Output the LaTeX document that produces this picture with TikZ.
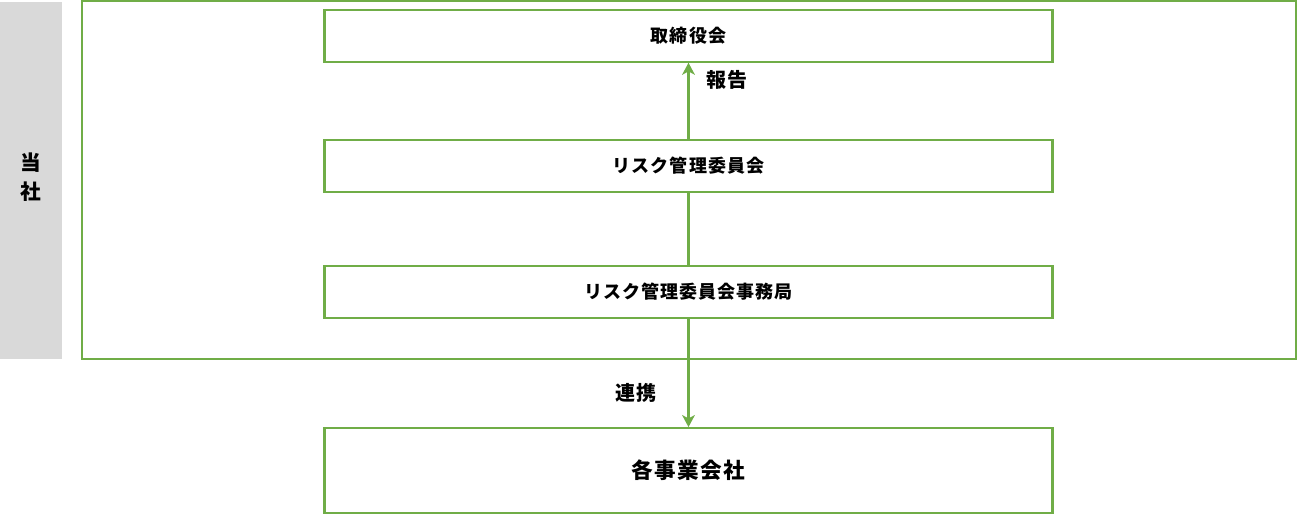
\documentclass[tikz,border=0pt]{standalone}
\usepackage{fontspec}
\setmainfont{Noto Sans CJK JP}[LetterSpace=6]
\usetikzlibrary{arrows.meta}
\definecolor{lgreen}{HTML}{70AD47}
\definecolor{lgray}{HTML}{D9D9D9}
\begin{document}
\begin{tikzpicture}[x=0.75pt,y=-0.75pt,
  box/.style={draw=lgreen,line width=1.6pt,fill=white,minimum width=546pt,minimum height=38.5pt,inner sep=0pt,font=\fontsize{13.5pt}{15pt}\selectfont\bfseries},
  conn/.style={draw=lgreen,line width=2.6pt},
  arr/.style={conn,-{Stealth[length=9pt,width=9.5pt,inset=2.5pt]}},
  lbl/.style={font=\fontsize{15pt}{16pt}\selectfont\bfseries,inner sep=0pt}]
\useasboundingbox (0,0) rectangle (1297,515);
\fill[lgray] (0,2) rectangle (62,359);
\node[font=\fontsize{15.5pt}{22pt}\selectfont\bfseries,align=center,inner sep=0pt] (tosha) at (31,177) {当\\社};
\draw[draw=lgreen,line width=1.6pt] (82,1) rectangle (1296,359);
\node[box] (b1) at (688.5,36) {取締役会};
\node[box] (b2) at (688.5,166) {リスク管理委員会};
\node[box] (b3) at (688.5,292) {リスク管理委員会事務局};
\node[box,minimum height=63.5pt,font=\fontsize{16.2pt}{18pt}\selectfont\bfseries] (b4) at (688.5,470.5) {各事業会社};
\draw[arr] (b2.north) -- (b1.south);
\draw[conn] (b3.north) -- (b2.south);
\draw[arr] (b3.south) -- (b4.north);
\node[lbl] (l1) at (727,80) {報告};
\node[lbl] (l2) at (636,393) {連携};
\end{tikzpicture}
\end{document}
